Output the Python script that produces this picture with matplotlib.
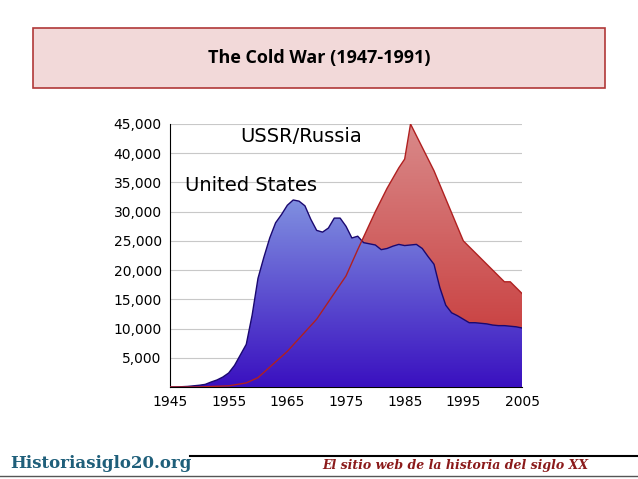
import matplotlib
matplotlib.use("Agg")
import matplotlib.pyplot as plt
import numpy as np
from matplotlib.colors import LinearSegmentedColormap
from matplotlib.patches import Rectangle

us_years = [1945,1946,1947,1948,1949,1950,1951,1952,1953,1954,1955,1956,1957,1958,1959,1960,1961,1962,1963,1964,1965,1966,1967,1968,1969,1970,1971,1972,1973,1974,1975,1976,1977,1978,1979,1980,1981,1982,1983,1984,1985,1986,1987,1988,1989,1990,1991,1992,1993,1994,1995,1996,1997,1998,1999,2000,2001,2002,2003,2004,2005]
us_vals = [0,10,50,100,200,300,450,850,1200,1700,2400,3700,5500,7300,12300,18600,22200,25500,28100,29500,31100,32000,31800,31000,28700,26800,26500,27200,28900,28900,27500,25500,25800,24700,24500,24300,23500,23700,24100,24400,24200,24300,24400,23700,22300,21000,17000,14000,12700,12200,11600,11000,11000,10900,10800,10600,10500,10500,10400,10300,10100]
ussr_years = [1945,1949,1950,1955,1958,1960,1965,1970,1975,1977,1980,1982,1984,1985,1986,1990,1995,2000,2002,2003,2005]
ussr_vals = [0,0,10,200,700,1600,6100,11600,19000,23500,30000,34000,37500,39000,45000,37000,25000,20000,18000,18000,16000]

fig = plt.figure(figsize=(6.38,4.79), dpi=100)
fig.patch.set_facecolor("white")
fig.patches.append(Rectangle((33/638, 1-88/479), 572/638, 60/479, transform=fig.transFigure,
    facecolor="#f2d9d9", edgecolor="#b03838", lw=1.2))
fig.text(0.5, 1-58/479, "The Cold War (1947-1991)", ha="center", va="center",
         fontsize=13, fontweight="bold", family="Open Sans")

ax = fig.add_axes([170/638, 1-387/479, 352/638, 263/479])
ax.set_xlim(1945, 2005); ax.set_ylim(0, 45000)

def grad_fill(x, y, c_top, c_bot, z):
    poly = ax.fill_between(x, 0, y, facecolor="none", edgecolor="none", zorder=z)
    cmap = LinearSegmentedColormap.from_list("g", [c_bot, c_top])
    g = np.linspace(0, 1, 256).reshape(-1, 1)
    im = ax.imshow(g, cmap=cmap, aspect="auto", origin="lower",
                   extent=[1945, 2005, 0, max(y)], zorder=z)
    im.set_clip_path(poly.get_paths()[0], transform=ax.transData)

grad_fill(ussr_years, ussr_vals, "#d98a8a", "#c63030", 2)
grad_fill(us_years, us_vals, "#8090e0", "#3a10c0", 3)
ax.plot(us_years, us_vals, color="#1a0870", lw=1, zorder=4)
ax.plot(ussr_years, ussr_vals, color="#b02020", lw=1, zorder=5)
ax.set_xlim(1945, 2005); ax.set_ylim(0, 45000)

ax.set_yticks(range(5000, 45001, 5000))
ax.set_yticklabels([f"{v:,}" for v in range(5000, 45001, 5000)])
ax.set_xticks(range(1945, 2006, 10))
ax.grid(axis="y", color="#c8c8c8", lw=0.8, zorder=0)
ax.set_axisbelow(True)
for s in ["top", "right"]:
    ax.spines[s].set_visible(False)
ax.tick_params(labelsize=10, length=0, pad=6)
ax.text(1957, 42000, "USSR/Russia", fontsize=14)
ax.text(1947.5, 33600, "United States", fontsize=14)

fig.text(10/638, 1-463/479, "Historiasiglo20.org", fontsize=12, fontweight="bold",
         color="#1f5f7a", family="DejaVu Serif", va="center")
fig.add_artist(plt.Line2D([190/638, 1.0], [1-456/479]*2, color="black", lw=1.5, transform=fig.transFigure))
fig.add_artist(plt.Line2D([0, 1.0], [1-476/479]*2, color="#555", lw=1, transform=fig.transFigure))
fig.text(322/638, 1-465/479, "El sitio web de la historia del siglo XX", fontsize=9, fontweight="bold",
         style="italic", color="#8b1a1a", family="DejaVu Serif", va="center")
fig.savefig("out.png", dpi=100)
